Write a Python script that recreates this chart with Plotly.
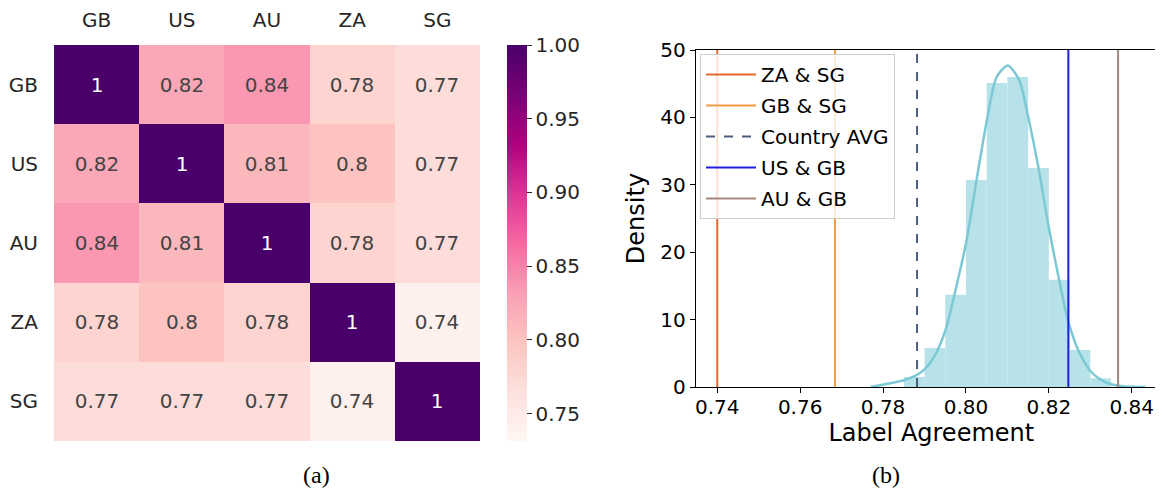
import plotly.graph_objects as go

# (a) pairwise label agreement between countries
countries = ["GB", "US", "AU", "ZA", "SG"]
agreement = [
    [1.0, 0.8247, 0.8367, 0.78, 0.7684],
    [0.8247, 1.0, 0.81, 0.80, 0.77],
    [0.8367, 0.81, 1.0, 0.78, 0.77],
    [0.78, 0.80, 0.78, 1.0, 0.740],
    [0.7684, 0.77, 0.77, 0.740, 1.0],
]
cbar_ticks = [0.75, 0.80, 0.85, 0.90, 0.95, 1.00]

# (b) distribution of label agreement (histogram bins + kde)
bin_left = [0.785, 0.790, 0.795, 0.800, 0.805, 0.810, 0.815, 0.820, 0.825, 0.830]
bin_density = [1.5, 5.8, 13.7, 30.7, 45.1, 46.0, 32.5, 15.9, 5.5, 1.3]
bin_width = 0.005

kde_x = [0.777, 0.7796, 0.785, 0.7882, 0.790, 0.7926, 0.7952, 0.7976, 0.8001, 0.8025,
         0.805, 0.8074, 0.8101, 0.8128, 0.8149, 0.8175, 0.820, 0.8227, 0.8247, 0.8272,
         0.8301, 0.8325, 0.835, 0.8379, 0.8433]
kde_y = [0.0, 0.3, 1.0, 1.8, 2.6, 4.8, 8.7, 14.7, 21.6, 30.5,
         39.4, 46.0, 47.7, 45.6, 40.4, 32.5, 23.6, 15.2, 9.7, 5.3,
         2.3, 1.1, 0.4, 0.1, 0.0]

ref_names = ["ZA & SG", "GB & SG", "Country AVG", "US & GB", "AU & GB"]
ref_values = [0.740, 0.7684, 0.7882, 0.8247, 0.8367]
ref_colors = ["#e4692c", "#f59c45", "#4a5d7e", "#1f1fe0", "#a5877d"]
ref_dash = ["solid", "solid", "dash", "solid", "solid"]

W, H = 1163, 497
FONT = "DejaVu Sans"

# cell labels like seaborn's annot (2 significant digits)
cell_text = [[f"{v:.2g}" for v in row] for row in agreement]

fig = go.Figure()

# heatmap
fig.add_trace(go.Heatmap(
    z=agreement, x=countries, y=countries,
    colorscale="RdPu", zmin=0.7315, zmax=1.0,
    text=cell_text, texttemplate="%{text}", textfont=dict(size=20, family=FONT),
    xaxis="x", yaxis="y", hoverinfo="skip",
    colorbar=dict(
        x=499 / W, xanchor="left", xpad=0,
        y=1 - 433 / H, yanchor="bottom", ypad=0,
        len=396 / H, lenmode="fraction", thickness=20,
        outlinewidth=0, ticks="outside", ticklen=5, tickwidth=1, tickcolor="#262626",
        tickvals=cbar_ticks, tickformat=".2f",
        tickfont=dict(size=20, family=FONT, color="#262626"),
    ),
    showlegend=False,
))

# histogram bars
fig.add_trace(go.Bar(
    x=bin_left, y=bin_density, width=bin_width, offset=0,
    marker=dict(color="#b8e2e9", line=dict(width=0)),
    xaxis="x2", yaxis="y2", showlegend=False, hoverinfo="skip",
))

# kde
fig.add_trace(go.Scatter(
    x=kde_x, y=kde_y, mode="lines",
    line=dict(color="#7cc9d5", width=2.5, shape="spline", smoothing=0.7),
    xaxis="x2", yaxis="y2", showlegend=False, hoverinfo="skip",
))

# reference lines
for i, (name, v, c, d) in enumerate(zip(ref_names, ref_values, ref_colors, ref_dash)):
    fig.add_trace(go.Scatter(
        x=[v, v], y=[0, 50], mode="lines", name=name,
        line=dict(color=c, width=2, dash=d),
        xaxis="x2", yaxis="y2", legendgroup=f"g{i}",
    ))

axis_common = dict(automargin=False, zeroline=False, showgrid=False)

fig.update_layout(
    width=W, height=H,
    margin=dict(l=0, r=0, t=0, b=0),
    paper_bgcolor="white", plot_bgcolor="white",
    font=dict(family=FONT, size=20, color="black"),
    xaxis=dict(domain=[46 / W, 472 / W], side="top", ticks="", showline=False,
               tickfont=dict(size=20, color="#262626"), ticklabelstandoff=13,
               **axis_common),
    yaxis=dict(domain=[1 - 433 / H, 1 - 37 / H], autorange="reversed", ticks="",
               showline=False, tickfont=dict(size=20, color="#262626"),
               ticklabelstandoff=15, **axis_common),
    xaxis2=dict(domain=[687.7 / W, 1159 / W], anchor="y2", range=[0.7348, 0.8485],
                tickvals=[0.74, 0.76, 0.78, 0.80, 0.82, 0.84], tickformat=".2f",
                ticks="outside", ticklen=5, tickcolor="black", ticklabelstandoff=-3,
                showline=True, linecolor="black", linewidth=1, mirror=True,
                title=dict(text="Label Agreement", standoff=0),
                **axis_common),
    yaxis2=dict(domain=[1 - 379 / H, 1 - 42 / H], anchor="x2", range=[0, 50],
                tickvals=[0, 10, 20, 30, 40, 50],
                ticks="outside", ticklen=5, tickcolor="black",
                showline=True, linecolor="black", linewidth=1, mirror=True,
                title=dict(text="Density", standoff=8),
                **axis_common),
    legend=dict(x=692 / W, y=1 - 46 / H, xanchor="left", yanchor="top",
                bgcolor="rgba(255,255,255,0.8)", bordercolor="#cccccc", borderwidth=1,
                font=dict(size=20), tracegroupgap=2, itemwidth=50),
    annotations=[
        dict(text="(a)", x=293 / W, y=1 - 482 / H, xref="paper", yref="paper",
             showarrow=False, font=dict(family="Liberation Serif", size=24, color="black")),
        dict(text="(b)", x=894 / W, y=1 - 482 / H, xref="paper", yref="paper",
             showarrow=False, font=dict(family="Liberation Serif", size=24, color="black")),
    ],
)

fig.write_html("out.html")
